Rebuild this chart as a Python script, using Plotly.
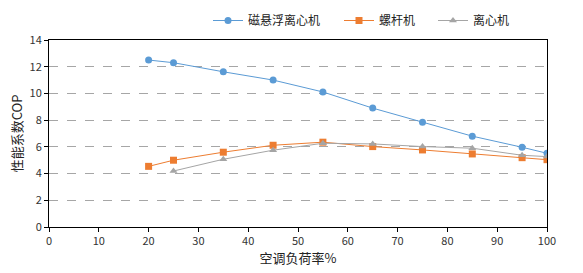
import plotly.graph_objects as go

x_maglev = [20, 25, 35, 45, 55, 65, 75, 85, 95, 100]
y_maglev = [12.5, 12.3, 11.62, 11.0, 10.11, 8.9, 7.85, 6.8, 5.97, 5.52]
x_screw = [20, 25, 35, 45, 55, 65, 75, 85, 95, 100]
y_screw = [4.54, 5.0, 5.6, 6.12, 6.35, 6.02, 5.77, 5.47, 5.19, 5.04]
x_cent = [25, 35, 45, 55, 65, 75, 85, 95, 100]
y_cent = [4.19, 5.07, 5.75, 6.27, 6.22, 6.02, 5.9, 5.37, 5.27]
names = ["磁悬浮离心机", "螺杆机", "离心机"]

font = "Noto Sans CJK SC, Microsoft YaHei, sans-serif"
fig = go.Figure()
fig.add_trace(go.Scatter(x=x_maglev, y=y_maglev, name=names[0], mode="lines+markers", legend="legend",
                         showlegend=True,
                         line=dict(color="#5B9BD5", width=1), marker=dict(symbol="circle", size=7, color="#5B9BD5")))
fig.add_trace(go.Scatter(x=x_screw, y=y_screw, name=names[1], mode="lines+markers", legend="legend2",
                         showlegend=True,
                         line=dict(color="#ED7D31", width=1), marker=dict(symbol="square", size=7, color="#ED7D31")))
fig.add_trace(go.Scatter(x=x_cent, y=y_cent, name=names[2], mode="lines+markers", legend="legend3",
                         showlegend=True,
                         line=dict(color="#A5A5A5", width=1), marker=dict(symbol="triangle-up", size=7, color="#A5A5A5")))

def leg(xpix):
    return dict(orientation="h", x=xpix / 583, xanchor="left", y=1 - 6 / 273, yanchor="top",
                xref="container", yref="container", font=dict(size=12, color="#222"),
                itemwidth=30, bgcolor="rgba(0,0,0,0)")

fig.update_layout(
    width=583, height=273, showlegend=True,
    margin=dict(l=49, r=36, t=40, b=46, autoexpand=False),
    paper_bgcolor="white", plot_bgcolor="white",
    font=dict(family=font, size=11, color="#333"),
    legend=leg(208), legend2=leg(339), legend3=leg(433),
    xaxis=dict(range=[0, 100], dtick=10, showgrid=False, showline=True, linecolor="black",
               linewidth=1, mirror=True, ticks="outside", ticklen=4, tickcolor="black",
               title=dict(text="空调负荷率%", font=dict(size=13, color="#222"), standoff=2),
               zeroline=False),
    yaxis=dict(range=[0, 14], dtick=2, showgrid=True, gridcolor="#A6A6A6", griddash="dash",
               gridwidth=1, showline=True, linecolor="black", linewidth=1, mirror=True,
               ticks="outside", ticklen=4, tickcolor="black", zeroline=False,
               title=dict(text="性能系数COP", font=dict(size=13, color="#222"), standoff=4)),
)
fig.write_html("out.html")
